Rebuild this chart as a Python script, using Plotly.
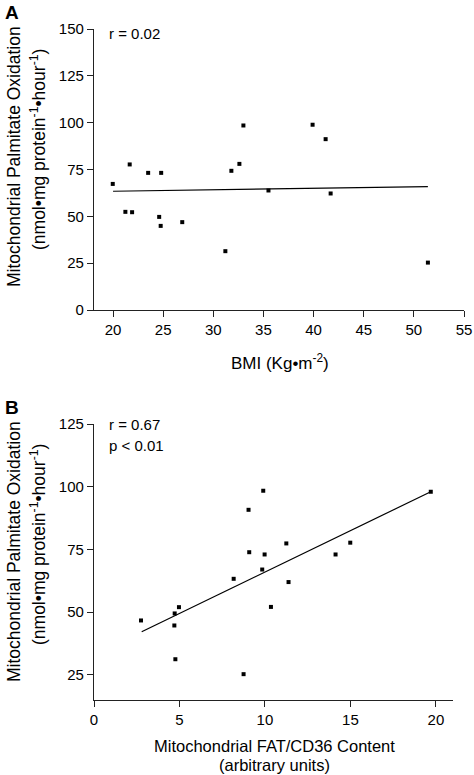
import plotly.graph_objects as go

# panel A: BMI vs palmitate oxidation
bmi = [19.97, 21.66, 21.23, 21.9, 23.5, 24.8, 24.6, 24.75, 26.9, 31.2,
       31.8, 32.6, 33.0, 35.5, 39.9, 41.2, 41.7, 51.4]
ox_a = [67.3, 77.7, 52.4, 52.2, 73.2, 73.2, 49.7, 44.9, 46.9, 31.4,
        74.3, 78.0, 98.5, 63.8, 98.9, 91.2, 62.2, 25.3]
fit_a_x = [20.0, 51.4]
fit_a_y = [63.4, 65.9]

# panel B: FAT/CD36 content vs palmitate oxidation
cd36 = [2.75, 4.72, 4.97, 4.70, 4.76, 8.75, 8.17, 9.04, 9.08, 9.9,
        9.84, 9.98, 10.35, 11.25, 11.38, 14.13, 14.99, 19.7]
ox_b = [46.7, 49.5, 52.0, 44.7, 31.25, 25.3, 63.3, 90.8, 73.9, 98.4,
        67.0, 73.0, 52.1, 77.4, 62.0, 73.0, 77.7, 98.0]
fit_b_x = [2.79, 19.7]
fit_b_y = [42.2, 98.0]

W, H = 474, 775
FONT = "Liberation Sans, Arial, sans-serif"
AX = "#222"


def px(x):
    return x / W


def py(y):
    return 1 - y / H


fig = go.Figure()
mk = dict(symbol="square", size=4, color="black")
fig.add_trace(go.Scatter(x=bmi, y=ox_a, mode="markers", marker=mk, xaxis="x", yaxis="y"))
fig.add_trace(go.Scatter(x=fit_a_x, y=fit_a_y, mode="lines",
                         line=dict(color="black", width=1.2), xaxis="x", yaxis="y"))
fig.add_trace(go.Scatter(x=cd36, y=ox_b, mode="markers", marker=mk, xaxis="x2", yaxis="y2"))
fig.add_trace(go.Scatter(x=fit_b_x, y=fit_b_y, mode="lines",
                         line=dict(color="black", width=1.2), xaxis="x2", yaxis="y2"))

axis_common = dict(showline=True, linecolor=AX, linewidth=1.3, ticks="outside",
                   ticklen=6, tickwidth=1.3, tickcolor=AX, showgrid=False,
                   zeroline=False, automargin=False,
                   tickfont=dict(family=FONT, size=15, color="black"))

fig.update_layout(
    width=W, height=H,
    margin=dict(l=0, r=0, t=0, b=0, autoexpand=False),
    plot_bgcolor="white", paper_bgcolor="white",
    showlegend=False,
    xaxis=dict(domain=[px(94), px(464)], range=[18.1, 55], tickvals=list(range(20, 56, 5)),
               anchor="y", **axis_common),
    yaxis=dict(domain=[py(310), py(29)], range=[0, 150], tickvals=list(range(0, 151, 25)),
               anchor="x", **axis_common),
    xaxis2=dict(domain=[px(94), px(453)], range=[0, 21], tickvals=list(range(0, 21, 5)),
                anchor="y2", **axis_common),
    yaxis2=dict(domain=[py(700), py(424)], range=[15, 125], tickvals=list(range(25, 126, 25)),
                anchor="x2", **axis_common),
)

ann = []


def note(text, x, y, size=15, angle=0, xanchor="center", bold=False):
    ann.append(dict(text=("<b>%s</b>" % text) if bold else text, x=px(x), y=py(y),
                    xref="paper", yref="paper", showarrow=False, textangle=angle,
                    xanchor=xanchor, yanchor="middle",
                    font=dict(family=FONT, size=size, color="black")))


ytitle1 = "Mitochondrial Palmitate Oxidation"
ytitle2 = "(nmol•mg protein<sup>-1</sup>•hour<sup>-1</sup>)"

note("A", 3, 12, size=19, xanchor="left", bold=True)
note("r = 0.02", 107, 33, size=15, xanchor="left")
note(ytitle1, 14, 157, size=17.5, angle=-90)
note(ytitle2, 38, 150, size=17.5, angle=-90)
note("BMI (Kg•m<sup>-2</sup>)", 280, 362, size=17)

note("B", 3, 407, size=19, xanchor="left", bold=True)
note("r = 0.67", 107, 424, size=15, xanchor="left")
note("p < 0.01", 107, 446, size=15, xanchor="left")
note(ytitle1, 14, 552, size=17.5, angle=-90)
note(ytitle2, 38, 545, size=17.5, angle=-90)
note("Mitochondrial FAT/CD36 Content", 274, 746, size=16.5)
note("(arbitrary units)", 274, 765, size=16.5)

fig.update_layout(annotations=ann)
# drop the default page margin so the figure sits at the window's corner
fig.write_html("out.html", config={"displayModeBar": False},
               post_script="document.body.style.margin='0';")
